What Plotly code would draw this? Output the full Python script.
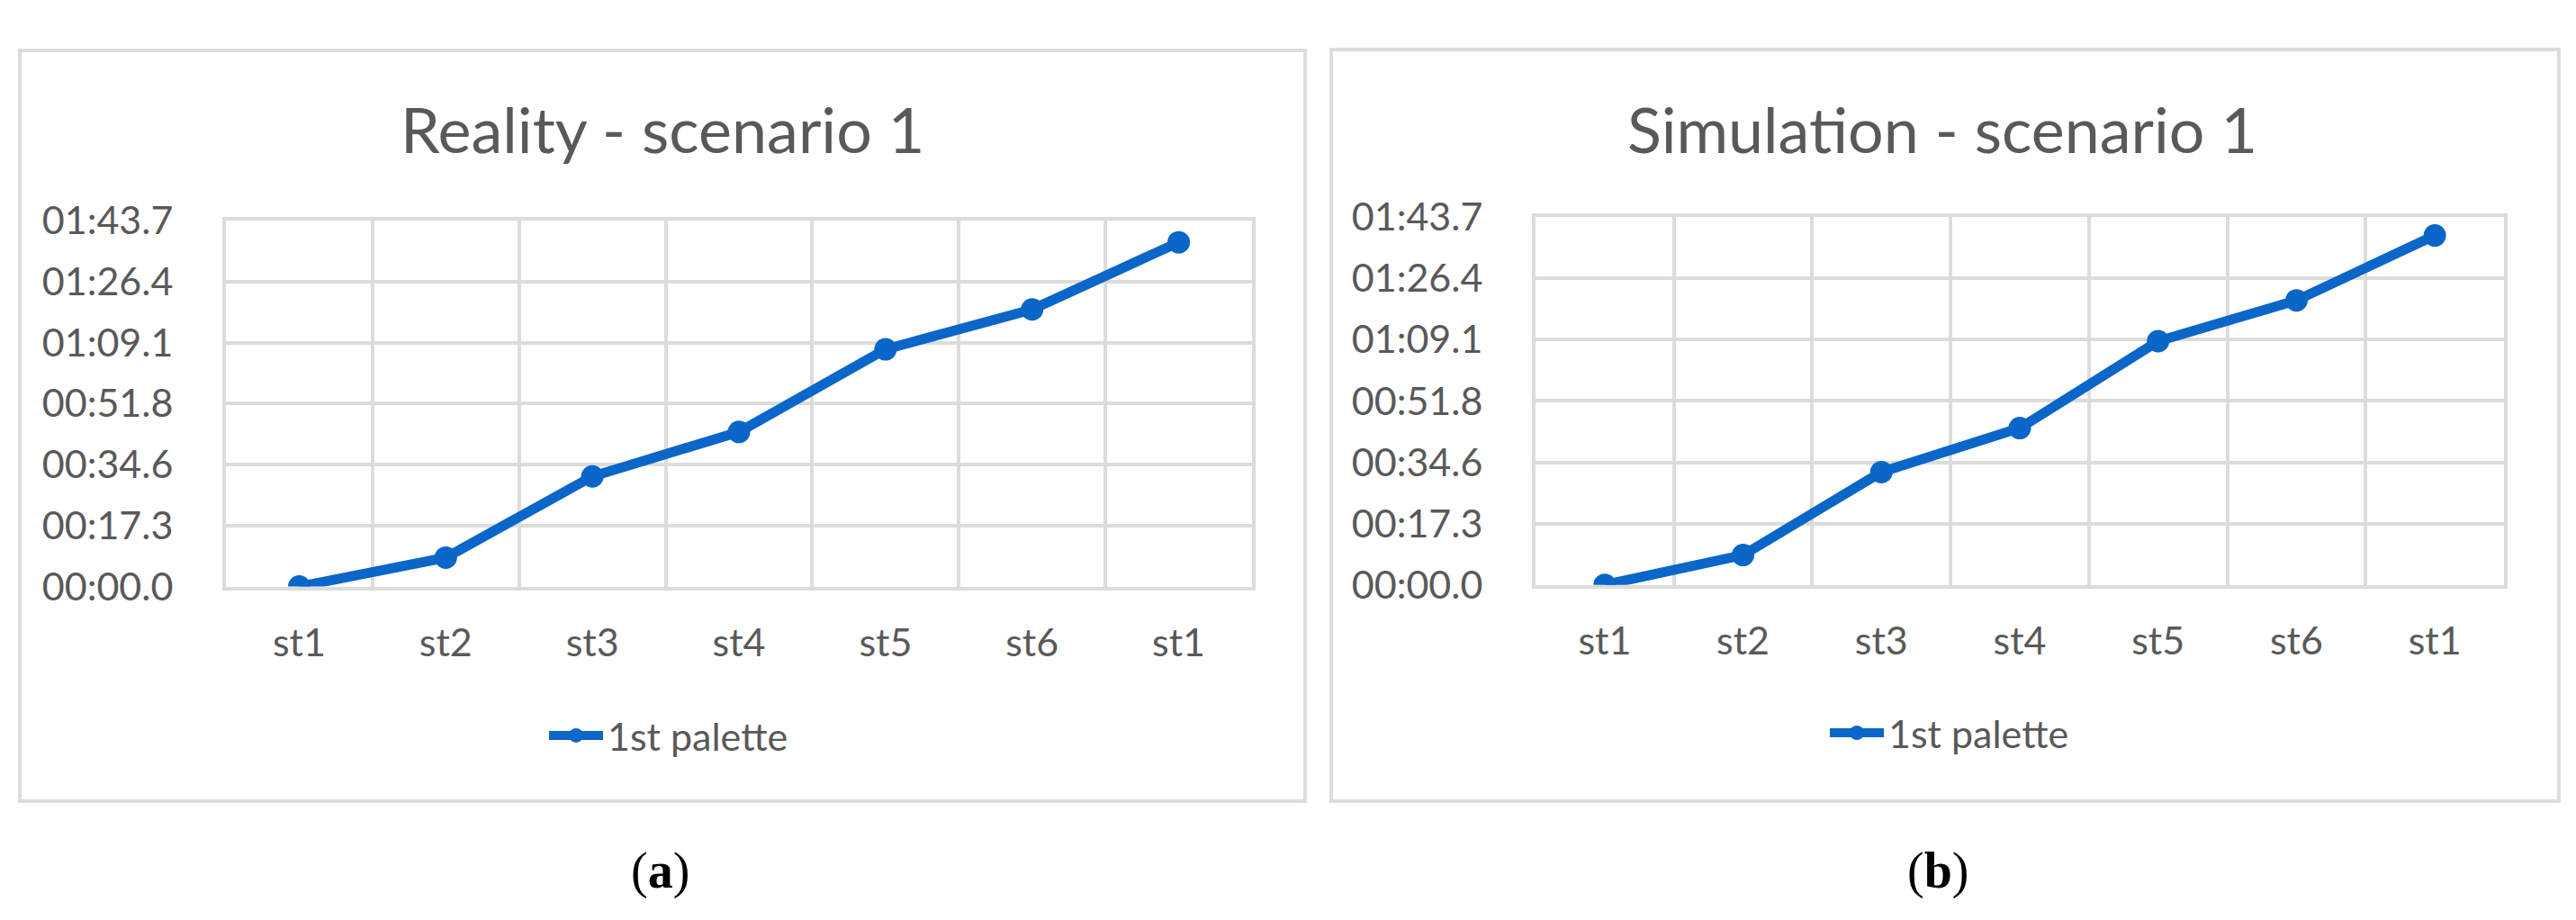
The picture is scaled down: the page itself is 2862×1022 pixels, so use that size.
import plotly.graph_objects as go
from plotly.subplots import make_subplots

# category labels (the route returns to st1)
stations = ["st1", "st2", "st3", "st4", "st5", "st6", "st1"]
# elapsed time in seconds
reality_s = [0.0, 8.2, 31.2, 43.8, 67.2, 78.5, 97.5]
simulation_s = [0.0, 8.4, 31.8, 44.2, 68.7, 80.2, 98.5]
y_ticks_s = [0.0, 17.28, 34.56, 51.84, 69.12, 86.4, 103.68]
y_tick_labels = ["00:00.0", "00:17.3", "00:34.6", "00:51.8", "01:09.1", "01:26.4", "01:43.7"]
titles = ["Reality - scenario 1", "Simulation - scenario 1"]
captions = ["(<b>a</b>)", "(<b>b</b>)"]
series_name = "1st palette"

W, H = 2862, 1022
BLUE = "#0A66C8"
GREY_TXT = "#595959"
GRID = "#DCDCDC"
FONT = "Lato"


def px_x(v):
    return v / W


def px_y(v):
    return 1 - v / H


fig = make_subplots(rows=1, cols=2)
xs = list(range(len(stations)))
fig.add_trace(go.Scatter(x=xs, y=reality_s, name=series_name, mode="lines+markers",
                         line=dict(color=BLUE, width=11), marker=dict(size=25, color=BLUE),
                         legend="legend", showlegend=True), row=1, col=1)
fig.add_trace(go.Scatter(x=xs, y=simulation_s, name=series_name, mode="lines+markers",
                         line=dict(color=BLUE, width=11), marker=dict(size=25, color=BLUE),
                         legend="legend2", showlegend=True), row=1, col=2)

axis_common = dict(showline=True, mirror=True, linecolor=GRID, linewidth=4,
                   gridcolor=GRID, gridwidth=4, zeroline=False,
                   tickfont=dict(family=FONT, size=43, color=GREY_TXT))
for i, (dom_x, dom_y) in enumerate([((243, 1383), (221, 649)), ((1698, 2774), (217, 647))], start=1):
    fig.update_xaxes(axis_common, row=1, col=i, domain=[px_x(dom_x[0]), px_x(dom_x[1])],
                     range=[-0.5, len(stations) - 0.5], tickmode="array", tickvals=xs, ticktext=stations,
                     showgrid=False, ticks="", ticklabelstandoff=22,
                     minor=dict(tick0=-0.5, dtick=1, showgrid=True, gridcolor=GRID, gridwidth=4))
    fig.update_yaxes(axis_common, row=1, col=i, domain=[px_y(dom_y[1]), px_y(dom_y[0])],
                     range=[0, y_ticks_s[-1]], tickmode="array", tickvals=y_ticks_s, ticktext=y_tick_labels,
                     ticks="", ticklabelstandoff=46)

# panel frames
for x0, x1, y0, y1 in [(14, 1442, 22, 900), (1471, 2835, 21, 900)]:
    fig.add_shape(type="rect", xref="paper", yref="paper", x0=px_x(x0), x1=px_x(x1),
                  y0=px_y(y1), y1=px_y(y0), line=dict(color=GRID, width=4), layer="below")

# chart titles
for title, cx in zip(titles, [728, 2150]):
    fig.add_annotation(text=title, x=px_x(cx), y=px_y(114), xref="paper", yref="paper",
                       showarrow=False, xanchor="center", yanchor="middle",
                       font=dict(family=FONT, size=70, color=GREY_TXT))

# captions below each panel
for cap, cx in zip(captions, [725, 2145]):
    fig.add_annotation(text=cap, x=px_x(cx), y=px_y(982), xref="paper", yref="paper",
                       showarrow=False, xanchor="center", yanchor="middle",
                       font=dict(family="Liberation Serif", size=56, color="#000000"))

legend_style = dict(orientation="h", xanchor="center", yanchor="middle", bgcolor="rgba(0,0,0,0)",
                    font=dict(family=FONT, size=43, color=GREY_TXT), itemwidth=60)
fig.update_layout(
    width=W, height=H, autosize=False, showlegend=True,
    margin=dict(l=0, r=0, t=0, b=0),
    paper_bgcolor="white", plot_bgcolor="white",
    legend=dict(legend_style, x=px_x(735), y=px_y(823)),
    legend2=dict(legend_style, x=px_x(2158), y=px_y(820)),
)

fig.write_html("out.html")
